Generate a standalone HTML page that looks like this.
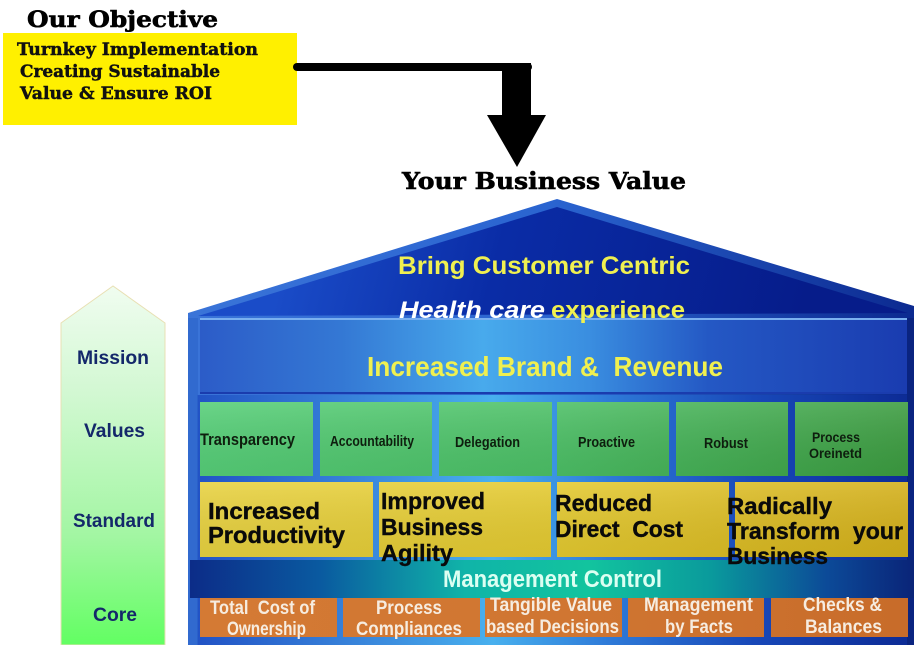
<!DOCTYPE html>
<html><head><meta charset="utf-8">
<style>
html,body{margin:0;padding:0;background:#fff;}
svg{display:block;}
.s{font-family:"Liberation Sans",Arial,sans-serif;font-weight:bold;}
.r{font-family:"DejaVu Serif","Liberation Serif",serif;font-weight:bold;}
</style></head>
<body>
<svg width="914" height="645" viewBox="0 0 914 645" xmlns="http://www.w3.org/2000/svg">
<defs>
<linearGradient id="col" x1="0" y1="0" x2="0" y2="1">
<stop offset="0" stop-color="#f0fcf0"/><stop offset="0.3" stop-color="#d2f8d2"/><stop offset="0.7" stop-color="#a2f6a2"/><stop offset="1" stop-color="#62fe62"/>
</linearGradient>
<linearGradient id="frame" gradientUnits="userSpaceOnUse" x1="188" y1="0" x2="914" y2="0">
<stop offset="0" stop-color="#3a74d8"/><stop offset="0.5" stop-color="#2a64d0"/><stop offset="1" stop-color="#0c2a90"/>
</linearGradient>
<linearGradient id="roof" gradientUnits="userSpaceOnUse" x1="300" y1="200" x2="800" y2="330">
<stop offset="0" stop-color="#1a4cc8"/><stop offset="0.4" stop-color="#0a2ca6"/><stop offset="1" stop-color="#061c8a"/>
</linearGradient>
<linearGradient id="body" gradientUnits="userSpaceOnUse" x1="188" y1="0" x2="914" y2="0">
<stop offset="0" stop-color="#2050c4"/><stop offset="0.25" stop-color="#3a88dc"/><stop offset="0.42" stop-color="#48b0ee"/><stop offset="0.58" stop-color="#2e7ad8"/><stop offset="0.78" stop-color="#1848b8"/><stop offset="1" stop-color="#0c2a94"/>
</linearGradient>
<linearGradient id="band" gradientUnits="userSpaceOnUse" x1="200" y1="0" x2="907" y2="0">
<stop offset="0" stop-color="#2c5cc8"/><stop offset="0.2" stop-color="#3478d4"/><stop offset="0.4" stop-color="#48aaec"/><stop offset="0.55" stop-color="#3a8ee0"/><stop offset="0.72" stop-color="#2458c4"/><stop offset="1" stop-color="#1a3cb0"/>
</linearGradient>
<linearGradient id="green" gradientUnits="userSpaceOnUse" x1="200" y1="0" x2="908" y2="0">
<stop offset="0" stop-color="#56cf78"/><stop offset="0.5" stop-color="#4cc066"/><stop offset="1" stop-color="#3c9c40"/>
</linearGradient>
<linearGradient id="yel" gradientUnits="userSpaceOnUse" x1="200" y1="0" x2="908" y2="0">
<stop offset="0" stop-color="#e8d240"/><stop offset="0.5" stop-color="#e4ca30"/><stop offset="1" stop-color="#d4b01a"/>
</linearGradient>
<linearGradient id="org" gradientUnits="userSpaceOnUse" x1="200" y1="0" x2="908" y2="0">
<stop offset="0" stop-color="#d47a34"/><stop offset="0.5" stop-color="#d07632"/><stop offset="1" stop-color="#c86c2a"/>
</linearGradient>
<linearGradient id="mgmt" gradientUnits="userSpaceOnUse" x1="190" y1="0" x2="914" y2="0">
<stop offset="0" stop-color="#0c2c88"/><stop offset="0.18" stop-color="#0a5aa0"/><stop offset="0.38" stop-color="#10b4a8"/><stop offset="0.55" stop-color="#12c49e"/><stop offset="0.72" stop-color="#0a9a9c"/><stop offset="0.88" stop-color="#0c4a98"/><stop offset="1" stop-color="#0a2478"/>
</linearGradient>
<linearGradient id="shade" x1="0" y1="0" x2="0" y2="1">
<stop offset="0" stop-color="#ffffff" stop-opacity="0.12"/><stop offset="1" stop-color="#000000" stop-opacity="0.06"/>
</linearGradient>
</defs>

<!-- Top left objective -->
<text class="r" x="27" y="27" font-size="22" textLength="191" lengthAdjust="spacingAndGlyphs" fill="#000" stroke="#000" stroke-width="0.6">Our Objective</text>
<rect x="3" y="33" width="294" height="92" fill="#fff000"/>
<g class="r" font-size="17" fill="#111" stroke="#111" stroke-width="0.45">
<text x="17" y="55" textLength="241" lengthAdjust="spacingAndGlyphs">Turnkey Implementation</text>
<text x="20" y="77" textLength="200" lengthAdjust="spacingAndGlyphs">Creating Sustainable</text>
<text x="20" y="99" textLength="192" lengthAdjust="spacingAndGlyphs">Value &amp; Ensure ROI</text>
</g>

<!-- connector -->
<line x1="297" y1="67" x2="528" y2="67" stroke="#000" stroke-width="8" stroke-linecap="round"/>
<rect x="502" y="63" width="29" height="54" fill="#000"/>
<polygon points="487,115 546,115 517,167" fill="#000"/>

<text class="r" x="402" y="189" font-size="23" textLength="284" lengthAdjust="spacingAndGlyphs" fill="#000" stroke="#000" stroke-width="0.6">Your Business Value</text>

<!-- left column arrow -->
<polygon points="61,323 113,286 165,323 165,645 61,645" fill="url(#col)" stroke="#e8e0b4" stroke-width="1"/>
<g class="s" font-size="19" fill="#14286a">
<text x="77" y="364" textLength="72" lengthAdjust="spacingAndGlyphs">Mission</text>
<text x="84" y="437" textLength="61" lengthAdjust="spacingAndGlyphs">Values</text>
<text x="73" y="527" textLength="82" lengthAdjust="spacingAndGlyphs">Standard</text>
<text x="93" y="621" textLength="44" lengthAdjust="spacingAndGlyphs">Core</text>
</g>

<!-- house -->
<polygon points="188,313 557,199 914,306 914,645 188,645" fill="url(#frame)"/>
<polygon points="198,316 557,207 908,313" fill="url(#roof)"/>
<rect x="197" y="395" width="717" height="250" fill="url(#body)"/>
<rect x="188" y="318" width="10" height="327" fill="#2e66cc" opacity="0.7"/>
<rect x="907" y="318" width="7" height="327" fill="#0a2480"/>

<!-- band -->
<rect x="200" y="318" width="707" height="76" fill="url(#band)"/>
<line x1="200" y1="319" x2="907" y2="319" stroke="#7ab0f0" stroke-width="2"/>
<line x1="200" y1="393" x2="907" y2="393" stroke="#1a3cae" stroke-width="2"/>

<text class="s" x="398" y="274" font-size="25" textLength="292" lengthAdjust="spacingAndGlyphs" fill="#f0f050">Bring Customer Centric</text>
<text class="s" x="399" y="318" font-size="24" font-style="italic" textLength="146" lengthAdjust="spacingAndGlyphs" fill="#ffffff">Health care</text>
<text class="s" x="551" y="318" font-size="24" textLength="134" lengthAdjust="spacingAndGlyphs" fill="#f0f050">experience</text>
<text class="s" x="367" y="376" font-size="28" textLength="356" lengthAdjust="spacingAndGlyphs" fill="#f0f050">Increased Brand &amp;&#160;&#160;Revenue</text>

<!-- green row -->
<g fill="url(#green)">
<rect x="200" y="402" width="113" height="74"/>
<rect x="320" y="402" width="112" height="74"/>
<rect x="439" y="402" width="113" height="74"/>
<rect x="557" y="402" width="112" height="74"/>
<rect x="676" y="402" width="112" height="74"/>
<rect x="795" y="402" width="113" height="74"/>
</g>
<g fill="url(#shade)">
<rect x="200" y="402" width="113" height="74"/>
<rect x="320" y="402" width="112" height="74"/>
<rect x="439" y="402" width="113" height="74"/>
<rect x="557" y="402" width="112" height="74"/>
<rect x="676" y="402" width="112" height="74"/>
<rect x="795" y="402" width="113" height="74"/>
</g>
<g class="s" fill="#0e1e0e">
<text x="200" y="445" font-size="17" textLength="95" lengthAdjust="spacingAndGlyphs">Transparency</text>
<text x="330" y="446" font-size="15" textLength="84" lengthAdjust="spacingAndGlyphs">Accountability</text>
<text x="455" y="447" font-size="15" textLength="65" lengthAdjust="spacingAndGlyphs">Delegation</text>
<text x="578" y="447" font-size="15" textLength="57" lengthAdjust="spacingAndGlyphs">Proactive</text>
<text x="704" y="448" font-size="15" textLength="44" lengthAdjust="spacingAndGlyphs">Robust</text>
<text x="812" y="442" font-size="14" textLength="48" lengthAdjust="spacingAndGlyphs">Process</text>
<text x="809" y="458" font-size="14" textLength="53" lengthAdjust="spacingAndGlyphs">Oreinetd</text>
</g>

<!-- yellow row -->
<g fill="url(#yel)">
<rect x="200" y="482" width="173" height="75"/>
<rect x="379" y="482" width="172" height="75"/>
<rect x="557" y="482" width="172" height="75"/>
<rect x="735" y="482" width="173" height="75"/>
</g>
<g fill="url(#shade)">
<rect x="200" y="482" width="173" height="75"/>
<rect x="379" y="482" width="172" height="75"/>
<rect x="557" y="482" width="172" height="75"/>
<rect x="735" y="482" width="173" height="75"/>
</g>

<!-- management band -->
<rect x="190" y="560" width="724" height="38" fill="url(#mgmt)"/>
<text class="s" x="443" y="587" font-size="24" textLength="219" lengthAdjust="spacingAndGlyphs" fill="#dcfff2">Management Control</text>

<!-- yellow texts (drawn over band) -->
<g class="s" fill="#0a0a0a" font-size="23" stroke="#0a0a0a" stroke-width="0.4">
<text x="208" y="519" textLength="112" lengthAdjust="spacingAndGlyphs">Increased</text>
<text x="208" y="543" textLength="137" lengthAdjust="spacingAndGlyphs">Productivity</text>
<text x="381" y="509" textLength="104" lengthAdjust="spacingAndGlyphs">Improved</text>
<text x="381" y="535" textLength="102" lengthAdjust="spacingAndGlyphs">Business</text>
<text x="381" y="561" textLength="72" lengthAdjust="spacingAndGlyphs">Agility</text>
<text x="555" y="511" textLength="97" lengthAdjust="spacingAndGlyphs">Reduced</text>
<text x="555" y="537" textLength="128" lengthAdjust="spacingAndGlyphs">Direct&#160;&#160;Cost</text>
<text x="727" y="514" textLength="105" lengthAdjust="spacingAndGlyphs">Radically</text>
<text x="727" y="539" textLength="176" lengthAdjust="spacingAndGlyphs">Transform&#160;&#160;your</text>
<text x="727" y="564" textLength="101" lengthAdjust="spacingAndGlyphs">Business</text>
</g>

<!-- orange row -->
<g fill="url(#org)">
<rect x="200" y="598" width="137" height="39"/>
<rect x="343" y="598" width="137" height="39"/>
<rect x="485" y="598" width="137" height="39"/>
<rect x="628" y="598" width="136" height="39"/>
<rect x="771" y="598" width="137" height="39"/>
</g>
<g class="s" fill="#f6ece0" font-size="19">
<text x="210" y="614" textLength="105" lengthAdjust="spacingAndGlyphs">Total&#160;&#160;Cost of</text>
<text x="227" y="635" textLength="79" lengthAdjust="spacingAndGlyphs">Ownership</text>
<text x="376" y="614" textLength="66" lengthAdjust="spacingAndGlyphs">Process</text>
<text x="356" y="635" textLength="106" lengthAdjust="spacingAndGlyphs">Compliances</text>
<text x="490" y="611" textLength="122" lengthAdjust="spacingAndGlyphs">Tangible Value</text>
<text x="486" y="633" textLength="133" lengthAdjust="spacingAndGlyphs">based Decisions</text>
<text x="644" y="611" textLength="109" lengthAdjust="spacingAndGlyphs">Management</text>
<text x="665" y="633" textLength="68" lengthAdjust="spacingAndGlyphs">by Facts</text>
<text x="803" y="611" textLength="79" lengthAdjust="spacingAndGlyphs">Checks &amp;</text>
<text x="805" y="633" textLength="77" lengthAdjust="spacingAndGlyphs">Balances</text>
</g>
</svg>
</body></html>
